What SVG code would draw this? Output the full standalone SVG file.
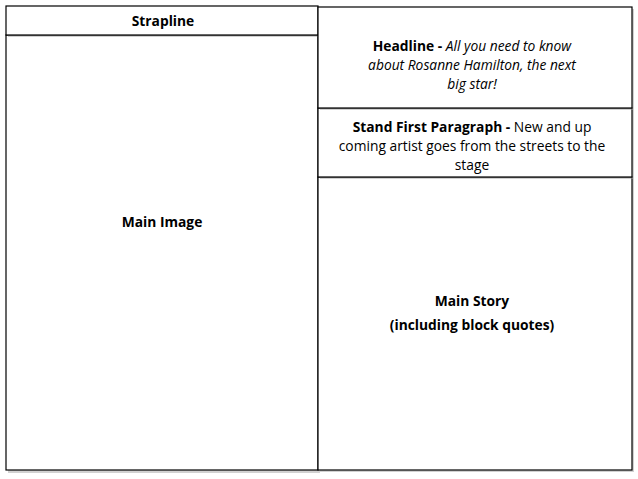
<svg xmlns="http://www.w3.org/2000/svg" width="638" height="479" viewBox="0 0 638 479">
<style>
.box{fill:#fff;stroke:#000;stroke-width:1.2}
.shadow{fill:#9a9a9a;opacity:0.45}
text{font-family:"Open Sans","Liberation Sans",sans-serif;font-size:13.8px;fill:#000;text-anchor:middle}
.b{font-weight:bold}
.i{font-style:italic}
</style>
<rect width="638" height="479" fill="#fff"/>
<g id="mainimage">
<rect class="shadow" x="8" y="37" width="312" height="436"/>
<rect class="box" x="6" y="35" width="312" height="435" stroke="#444"/>
<text class="b" x="162" y="227">Main Image</text>
</g>
<g id="strapline">
<rect class="shadow" x="8" y="8" width="312" height="29"/>
<rect class="box" x="6" y="6" width="312" height="29"/>
<text class="b" x="163" y="26">Strapline</text>
</g>
<g id="mainstory">
<rect class="shadow" x="320" y="179" width="314" height="293"/>
<rect class="box" x="318" y="177" width="314" height="293"/>
<text class="b" x="472" y="306">Main Story</text>
<text class="b" x="472" y="330">(including block quotes)</text>
</g>
<g id="standfirst">
<rect class="shadow" x="320" y="110" width="314" height="69"/>
<rect class="box" x="318" y="108" width="314" height="69"/>
<text x="472" y="132"><tspan class="b">Stand First Paragraph - </tspan>New and up</text>
<text x="472" y="151">coming artist goes from the streets to the</text>
<text x="472" y="170">stage</text>
</g>
<g id="headline">
<rect class="shadow" x="320" y="9" width="314" height="101"/>
<rect class="box" x="318" y="7" width="314" height="101"/>
<text x="472" y="51"><tspan class="b">Headline - </tspan><tspan class="i">All you need to know</tspan></text>
<text class="i" x="472" y="70">about Rosanne Hamilton, the next</text>
<text class="i" x="472" y="89">big star!</text>
</g>
</svg>
